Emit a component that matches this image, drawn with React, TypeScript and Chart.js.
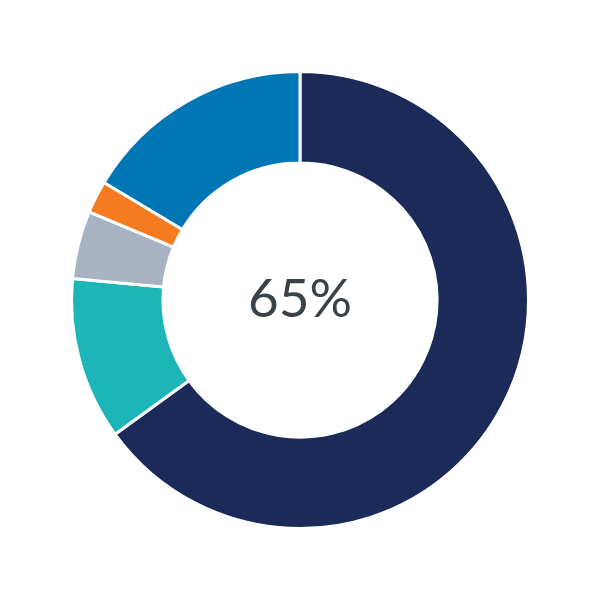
import { useEffect, useRef } from "react";
import Chart from "chart.js/auto";

const segmentLabels = ["Navy", "Teal", "Grey", "Orange", "Blue"];
const segmentValues = [65, 11.5, 4.8, 2.3, 16.4];
const segmentColors = ["#1b2a59", "#1db5b8", "#a7b3c2", "#f47b20", "#0176b5"];
const centerText = "65%";

export default function App() {
  const canvasRef = useRef<HTMLCanvasElement | null>(null);
  const chartRef = useRef<Chart | null>(null);

  useEffect(() => {
    if (!canvasRef.current) return;
    chartRef.current?.destroy();

    chartRef.current = new Chart(canvasRef.current, {
      type: "doughnut",
      data: {
        labels: segmentLabels,
        datasets: [
          {
            data: segmentValues,
            backgroundColor: segmentColors,
            borderColor: "#ffffff",
            borderWidth: 3,
            hoverOffset: 0,
          },
        ],
      },
      options: {
        animation: false,
        responsive: true,
        maintainAspectRatio: false,
        cutout: "60%",
        layout: { padding: 70 },
        plugins: {
          legend: { display: false },
          tooltip: { enabled: false },
        },
      },
    });

    return () => {
      chartRef.current?.destroy();
      chartRef.current = null;
    };
  }, []);

  return (
    <div
      style={{
        position: "fixed",
        left: 0,
        top: 0,
        width: 600,
        height: 600,
        background: "#ffffff",
      }}
    >
      <canvas ref={canvasRef} />
      <div
        style={{
          position: "absolute",
          left: 0,
          top: -4,
          width: 600,
          height: 600,
          display: "flex",
          alignItems: "center",
          justifyContent: "center",
          fontFamily: "Lato, sans-serif",
          fontSize: 53,
          color: "#3a4148",
          pointerEvents: "none",
        }}
      >
        {centerText}
      </div>
    </div>
  );
}
